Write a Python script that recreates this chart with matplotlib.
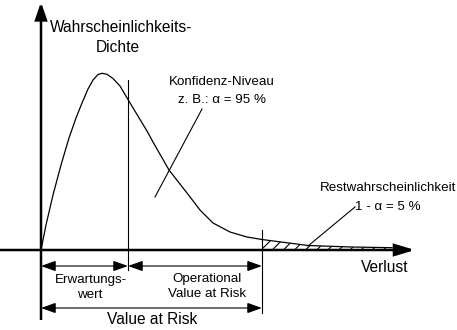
import matplotlib
matplotlib.use("Agg")
import matplotlib.pyplot as plt
from matplotlib.patches import FancyArrowPatch

plt.rcParams['font.family'] = ['Liberation Sans', 'DejaVu Sans']
plt.rcParams['hatch.linewidth'] = 0.8

# Density curve (loss, density), arbitrary units
loss = [0, 5, 12, 20, 28, 35, 41, 47, 52, 57, 61, 66, 72, 79, 87, 96, 106,
        112, 128, 146, 159, 172, 189, 206, 221, 267, 310, 351]
density = [0, 25, 55, 85, 112, 132, 147, 161, 170, 175.5, 176.7, 175.7,
           171.5, 164, 150.5, 135.5, 119, 108, 80, 57, 40, 27, 18, 13, 10.5,
           4.5, 3, 2.3]

expected_value = 87      # Erwartungswert
value_at_risk = 221      # Value at Risk (95 %)
tail_start_index = 24    # first curve point at the VaR

fig = plt.figure(figsize=(4.57, 3.30), dpi=100)
ax = fig.add_axes([0, 0, 1, 1])
ax.set_xlim(-41, 416)
ax.set_ylim(-80, 250)
ax.axis('off')


def arrow(p0, p1, style, lw):
    a = FancyArrowPatch(p0, p1, arrowstyle=style, mutation_scale=1,
                        shrinkA=0, shrinkB=0, color='black', lw=lw,
                        joinstyle='miter', capstyle='butt')
    ax.add_patch(a)

# hatched tail
ax.fill_between(loss[tail_start_index:], density[tail_start_index:], 0,
                facecolor='none', edgecolor='black', hatch='///', linewidth=0)

# curve
ax.plot(loss, density, color='black', lw=0.9, solid_joinstyle='round')

# axes arrows
arrow((0, -70), (0, 248), '-|>,head_length=10.5,head_width=3.6', 1.8)
arrow((-41, 0), (374, 0), '-|>,head_length=12,head_width=3.6', 1.8)

# vertical markers
ax.plot([expected_value, expected_value], [-20, 170], color='black', lw=0.8)
ax.plot([value_at_risk, value_at_risk], [-63, 20], color='black', lw=0.8)

# dimension arrows
dim = '<|-|>,head_length=9,head_width=3.2'
arrow((0, -16), (expected_value, -16), dim, 0.8)
arrow((expected_value, -16), (value_at_risk, -16), dim, 0.8)
arrow((0, -58), (value_at_risk, -58), dim, 0.8)

# leader lines
ax.plot([161, 114], [141, 53], color='black', lw=0.8)
ax.plot([314, 267], [43, 4], color='black', lw=0.8)

small = 9.6
big = 11.2
kw = dict(ha='center', va='center', color='black')
ax.text(80, 222, 'Wahrscheinlichkeits-', fontsize=big, **kw)
ax.text(77, 203, 'Dichte', fontsize=big, **kw)
ax.text(181, 168, 'Konfidenz-Niveau', fontsize=small, **kw)
ax.text(181, 150, 'z. B.: α = 95 %', fontsize=small, **kw)
ax.text(347, 62, 'Restwahrscheinlichkeit', fontsize=small, **kw)
ax.text(347, 43, '1 - α = 5 %', fontsize=small, **kw)
ax.text(344, -17, 'Verlust', fontsize=big, **kw)
ax.text(50, -30, 'Erwartungs-', fontsize=small, **kw)
ax.text(49, -45, 'wert', fontsize=small, **kw)
ax.text(166, -29, 'Operational', fontsize=small, **kw)
ax.text(166, -44, 'Value at Risk', fontsize=small, **kw)
ax.text(111, -69, 'Value at Risk', fontsize=big, **kw)

fig.savefig('out.png', dpi=100)
